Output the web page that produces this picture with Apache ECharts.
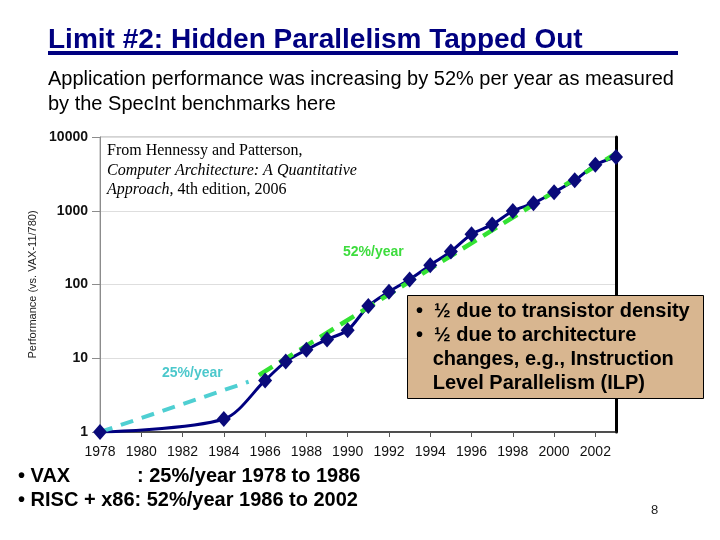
<!DOCTYPE html>
<html>
<head>
<meta charset="utf-8">
<script src="https://cdn.jsdelivr.net/npm/echarts@6/dist/echarts.min.js"></script>
<style>
  html, body { margin: 0; padding: 0; background: #fff; }
  #chart { width: 720px; height: 540px; }
</style>
</head>
<body>
<div id="chart"></div>
<script>
// SPECint performance relative to VAX-11/780
const years = [1978, 1984, 1986, 1987, 1988, 1989, 1990, 1991, 1992, 1993, 1994, 1995, 1996, 1997, 1998, 1999, 2000, 2001, 2002, 2003];
const perf = [1, 1.5, 5, 9, 13, 18, 24, 51, 80, 117, 183, 280, 481, 649, 993, 1267, 1779, 2584, 4195, 5364];

// trend lines, end points
const trend25 = [[1978, 1], [1985.2, 4.8]];
const trend52 = [[1985.7, 5.9], [2003, 6000]];

const yTicks = [1, 10, 100, 1000, 10000];

const pts = years.map((y, i) => [y, perf[i]]);
const sans = '"Liberation Sans", Arial, sans-serif';
const serif = '"Liberation Serif", "Times New Roman", serif';

const chart = echarts.init(document.getElementById('chart'));

const option = {
  backgroundColor: '#fff',
  animation: false,
  grid: {
    left: 100, right: 104, top: 137, bottom: 108,
    show: true, borderColor: '#a6a6a6', borderWidth: 1
  },
  xAxis: {
    type: 'value',
    min: 1978, max: 2003, interval: 2,
    axisLine: { lineStyle: { color: '#222', width: 1.5 } },
    axisTick: { show: true, inside: false, length: 5, lineStyle: { color: '#555' } },
    axisLabel: {
      showMaxLabel: false, margin: 13,
      fontFamily: sans, fontSize: 14, color: '#111',
      formatter: v => String(v)
    },
    splitLine: { show: false }
  },
  yAxis: [{
    type: 'log', logBase: 10, min: 1, max: 10000,
    name: 'Performance (vs. VAX-11/780)',
    nameLocation: 'middle', nameGap: 59,
    nameTextStyle: { fontFamily: sans, fontSize: 11, color: '#222' },
    axisLine: { show: true, lineStyle: { color: '#8c8c8c' } },
    axisTick: { show: true, length: 8, lineStyle: { color: '#8c8c8c' } },
    axisLabel: {
      margin: 12, fontFamily: sans, fontSize: 14, fontWeight: 'bold', color: '#111',
      formatter: v => yTicks.indexOf(Math.round(v)) >= 0 ? String(Math.round(v)) : ''
    },
    splitLine: { show: true, lineStyle: { color: '#dedede' } }
  }, {
    type: 'value', position: 'right', min: 0, max: 1,
    axisLine: { show: true, lineStyle: { color: '#000', width: 3 } },
    axisTick: { show: false }, axisLabel: { show: false }, splitLine: { show: false }
  }],
  series: [
    {
      type: 'line', data: pts, smooth: 0.3, z: 2,
      symbol: 'none',
      lineStyle: { color: '#000080', width: 3 }
    },
    {
      type: 'line', data: trend25, z: 3, symbol: 'none',
      lineStyle: { color: '#4fcfd2', width: 4, type: [13, 9] }
    },
    {
      type: 'line', data: trend52, z: 3, symbol: 'none',
      lineStyle: { color: '#33e233', width: 4.5, type: [16, 8] }
    },
    {
      type: 'scatter', data: pts, z: 4,
      symbol: 'diamond', symbolSize: [14, 16],
      itemStyle: { color: '#0a0a7a', opacity: 1 }
    }
  ],
  graphic: [
    // slide title + underline bar
    { type: 'text', left: 48, top: 26, z: 10,
      style: { text: 'Limit #2: Hidden Parallelism Tapped Out', font: 'bold 28px ' + sans, fill: '#000080' } },
    { type: 'rect', shape: { x: 48, y: 51, width: 630, height: 4 }, style: { fill: '#000080' }, z: 10 },
    { type: 'text', left: 48, top: 67, z: 10,
      style: { text: 'Application performance was increasing by 52% per year as measured\nby the SpecInt benchmarks here',
        font: '20px ' + sans, fill: '#000', lineHeight: 25 } },
    // source note inside plot
    { type: 'text', left: 107, top: 143, z: 10,
      style: {
        text: '{n|From Hennessy and Patterson,}\n{i|Computer Architecture: A Quantitative}\n{i|Approach}{n|, 4th edition, 2006}',
        rich: {
          n: { font: '16px ' + serif, fill: '#000', lineHeight: 19.5 },
          i: { font: 'italic 16px ' + serif, fill: '#000', lineHeight: 19.5 }
        }
      } },
    { type: 'text', left: 343, top: 245, z: 10,
      style: { text: '52%/year', font: 'bold 14px ' + sans, fill: '#3ddc3d' } },
    { type: 'text', left: 162, top: 366, z: 10,
      style: { text: '25%/year', font: 'bold 14px ' + sans, fill: '#4cc8cc' } },
    // tan callout box
    { type: 'rect', shape: { x: 407.5, y: 295.5, width: 296, height: 103 },
      style: { fill: '#d8b690', stroke: '#000', lineWidth: 1 }, z: 11 },
    { type: 'text', left: 416, top: 299, z: 12,
      style: {
        text: '•  ½ due to transistor density\n•  ½ due to architecture\n   changes, e.g., Instruction\n   Level Parallelism (ILP)',
        font: 'bold 20px ' + sans, fill: '#000', lineHeight: 24
      } },
    // bottom bullets
    { type: 'text', left: 18, top: 466, z: 10,
      style: { text: '• VAX', font: 'bold 20px ' + sans, fill: '#000' } },
    { type: 'text', left: 137, top: 466, z: 10,
      style: { text: ': 25%/year 1978 to 1986', font: 'bold 20px ' + sans, fill: '#000' } },
    { type: 'text', left: 18, top: 490, z: 10,
      style: { text: '• RISC + x86: 52%/year 1986 to 2002', font: 'bold 20px ' + sans, fill: '#000' } },
    { type: 'text', left: 651, top: 504, z: 10,
      style: { text: '8', font: '13px ' + sans, fill: '#222' } }
  ]
};

chart.setOption(option);
</script>
</body>
</html>
